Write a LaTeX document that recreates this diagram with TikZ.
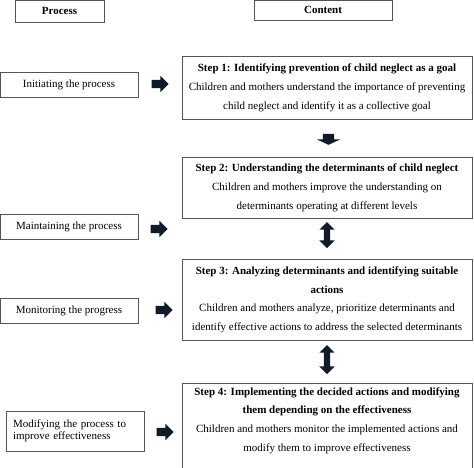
\documentclass[tikz,border=0pt]{standalone}
\usepackage{fontspec}
\setmainfont{Liberation Serif}
\usetikzlibrary{shapes.arrows}
\definecolor{ink}{HTML}{101A28}
\definecolor{frame}{HTML}{555555}
\begin{document}
\begin{tikzpicture}[x=1pt,y=-1pt,
  headbox/.style={draw=frame, line width=0.9pt, inner sep=0, font=\fontsize{11}{12}\selectfont\bfseries},
  procbox/.style={draw=frame, line width=0.9pt, minimum width=138, minimum height=25, inner sep=0, font=\fontsize{11}{12}\selectfont},
  stepbox/.style={draw=frame, line width=0.9pt, minimum width=290, align=center, inner sep=0, font=\fontsize{11}{18.7}\selectfont},
  steptext/.style={align=center, inner sep=0, font=\fontsize{11}{18.7}\selectfont},
  rarrow/.style={single arrow, fill=ink, inner xsep=0, inner ysep=4pt, single arrow head extend=4pt, minimum height=17},
  darrow/.style={double arrow, fill=ink, shape border rotate=90, inner ysep=0, inner xsep=3pt, double arrow head extend=4.5pt, minimum height=27},
  downarrow/.style={single arrow, fill=ink, shape border rotate=270, inner ysep=0, inner xsep=5.5pt, single arrow head extend=6pt, single arrow tip angle=130, minimum height=11}
]
\useasboundingbox (0,0) rectangle (474,467);
\clip (0,0) rectangle (474,467);

% headers
\node[headbox, minimum width=89, minimum height=22] (hp) at (59.5,11) {Process};
\node[headbox, minimum width=138, minimum height=20] (hc) at (323,10) {Content};

% left process boxes
\node[procbox] (p1) at (69,84.5) {Initiating the process};
\node[procbox] (p2) at (69,226.5) {Maintaining the process};
\node[procbox] (p3) at (69,310.5) {Monitoring the progress};
\node[procbox, minimum height=40, text width=124, inner xsep=7, align=left] (p4) at (75,431)
  {Modifying the process to\\improve effectiveness};

% step boxes
\node[stepbox, anchor=north, minimum height=63] (s1) at (327,56)
  {\textbf{Step 1: Identifying prevention of child neglect as a goal}\\
   Children and mothers understand the importance of preventing\\
   child neglect and identify it as a collective goal};
\node[stepbox, anchor=north, minimum height=61] (s2) at (327,157)
  {\textbf{Step 2: Understanding the determinants of child neglect}\\
   Children and mothers improve the understanding on\\
   determinants operating at different levels};
\node[stepbox, anchor=north, minimum height=81] (s3) at (327,259)
  {\textbf{Step 3: Analyzing determinants and identifying suitable}\\
   \textbf{actions}\\
   Children and mothers analyze, prioritize determinants and\\
   identify effective actions to address the selected determinants};
\node[stepbox, anchor=north, minimum height=100] (s4) at (327,383) {};
\node[steptext] (s4t) at (327,420.5)
  {\textbf{Step 4: Implementing the decided actions and modifying}\\
   \textbf{them depending on the effectiveness}\\
   Children and mothers monitor the implemented actions and\\
   modify them to improve effectiveness};

% right arrows
\node[rarrow] (a1) at (158,84) {};
\node[rarrow] (a2) at (157,229) {};
\node[rarrow] (a3) at (162,310) {};
\node[rarrow] (a4) at (163,432) {};

% vertical arrows
\node[downarrow] (d1) at (328.5,138) {};
\node[darrow, minimum height=26] (d2) at (327,235) {};
\node[darrow, minimum height=29] (d3) at (327,359.5) {};
\end{tikzpicture}
\end{document}
